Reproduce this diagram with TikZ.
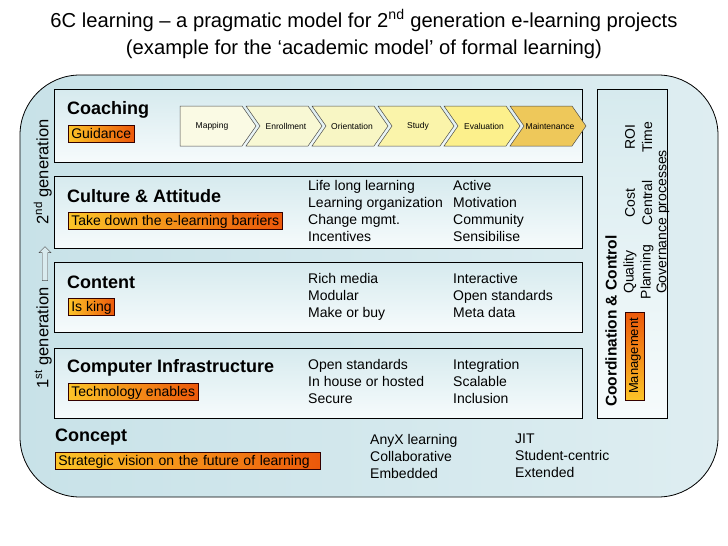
\documentclass[tikz,border=0pt]{standalone}
\usepackage{fontspec}
\setmainfont{Liberation Sans}
\usetikzlibrary{shapes.arrows}
\definecolor{bandtop}{RGB}{214,234,238}
\definecolor{bandbot}{RGB}{246,251,252}
\definecolor{outerc}{RGB}{200,226,232}
\definecolor{org1}{RGB}{252,196,40}
\definecolor{org2}{RGB}{236,88,10}
\definecolor{ch0}{RGB}{250,250,228}
\definecolor{ch1}{RGB}{248,248,212}
\definecolor{ch2}{RGB}{248,246,196}
\definecolor{ch3}{RGB}{250,244,170}
\definecolor{ch4}{RGB}{252,240,140}
\definecolor{ch5}{RGB}{238,200,90}
\tikzset{x=1pt,y=-1pt,
 band/.style={draw=black,line width=0.8pt,top color=bandtop,bottom color=bandbot},
 tag/.style={draw=black!80!red,line width=0.6pt,left color=org1,right color=org2,anchor=west,font=\fontsize{14}{16}\selectfont,inner sep=3pt,text depth=1pt},
 ttl/.style={font=\fontsize{18}{20}\selectfont\bfseries,anchor=west,inner sep=0},
 txt/.style={font=\fontsize{14}{17}\selectfont,anchor=north west,align=left,inner sep=0},
 chev/.style={draw=black!70,line width=0.5pt,font=\fontsize{8.5}{9}\selectfont},
 gen/.style={font=\fontsize{16.5}{18}\selectfont,rotate=90,inner sep=0},
 rt/.style={rotate=90,font=\fontsize{14}{16}\selectfont,inner sep=0}}
\begin{document}
\begin{tikzpicture}
\useasboundingbox (0,0) rectangle (728,546);
\fill[white] (0,0) rectangle (728,546);
\node[font=\fontsize{20.2}{27}\selectfont,align=center] (title) at (364,34) {6C learning – a pragmatic model for 2\textsuperscript{nd} generation e-learning projects\\(example for the ‘academic model’ of formal learning)};
\draw[line width=0.8pt,left color=outerc,right color=outerc!60!white,rounded corners=60] (20,75) rectangle (718,497);
% bands
\draw[band] (54,89) rectangle (582,162);
\draw[band] (54,176) rectangle (582,248);
\draw[band] (54,262) rectangle (582,332);
\draw[band] (54,348) rectangle (582,418);
\draw[band] (597,89) rectangle (667,418);
% titles and tags
\node[ttl] (t1) at (67,110) {Coaching};
\node[tag] (g1) at (68,134) {Guidance};
\node[ttl] (t2) at (67,196) {Culture \& Attitude};
\node[tag] (g2) at (68,221) {Take down the e-learning barriers};
\node[ttl] (t3) at (67,282) {Content};
\node[tag] (g3) at (68,307) {Is king};
\node[ttl] (t4) at (67,368) {Computer Infrastructure};
\node[tag] (g4) at (68,392) {Technology enables};
\node[ttl] (t5) at (55,437) {Concept};
\node[tag,text width=259pt,align=left] (g5) at (55,461) {Strategic vision on the future of learning};
% chevrons
\foreach \i/\t in {0/Mapping,1/Enrollment,2/Orientation,3/Study,4/Evaluation,5/Maintenance}{
 \pgfmathsetmacro{\xa}{180+\i*66}
 \ifnum\i=0
 \draw[chev,fill=ch\i] (\xa,106) -- ({\xa+62},106) -- ({\xa+76},126) -- ({\xa+62},146) -- (\xa,146) -- cycle;
 \else
 \draw[chev,fill=ch\i] (\xa,106) -- ({\xa+62},106) -- ({\xa+76},126) -- ({\xa+62},146) -- (\xa,146) -- ({\xa+14},126) -- cycle;
 \fi
 \node[chev,draw=none,inner sep=0] (c\i) at ({\xa+40+(\i==0?-8:0)},126) {\t};
}
% right texts
\node[txt] (r2a) at (308,180) {Life long learning\\Learning organization\\Change mgmt.\\Incentives};
\node[txt] (r2b) at (453,180) {Active\\Motivation\\Community\\Sensibilise};
\node[txt] (r3a) at (308,273) {Rich media\\Modular\\Make or buy};
\node[txt] (r3b) at (453,273) {Interactive\\Open standards\\Meta data};
\node[txt] (r4a) at (308,359) {Open standards\\In house or hosted\\Secure};
\node[txt] (r4b) at (453,359) {Integration\\Scalable\\Inclusion};
\node[txt] (r5a) at (370,434) {AnyX learning\\Collaborative\\Embedded};
\node[txt] (r5b) at (515,434) {JIT\\Student-centric\\Extended};
% generations
\node[gen,anchor=south] (gen1) at (52,338) {1\textsuperscript{st} generation};
\node[gen,anchor=south] (gen2) at (52,172) {2\textsuperscript{nd} generation};
\node[single arrow,draw=black!70,fill=outerc!70!white,rotate=90,minimum height=34pt,minimum width=12pt,single arrow head extend=2pt,inner sep=1.5pt] (arr) at (45,265) {};
% coordination column
\node[font=\fontsize{15.5}{17}\selectfont\bfseries,rotate=90,anchor=west,inner sep=0] (cc) at (611,407) {Coordination \& Control};
\node[draw=black!80!red,line width=0.6pt,bottom color=org1,top color=org2,rotate=90,minimum width=88pt,minimum height=19pt,font=\fontsize{13}{14}\selectfont] (mg) at (635,356) {Management};
\foreach \n/\y/\t in {q/272/Quality,c/203/Cost,r/137/ROI}
 \node[rt] (\n) at (630,\y) {\t};
\foreach \n/\y/\t in {p/272/Planning,ce/203/Central,ti/137/Time}
 \node[rt] (\n) at (647,\y) {\t};
\node[rt] (gov) at (663,222) {Governance processes};
\end{tikzpicture}
\end{document}
